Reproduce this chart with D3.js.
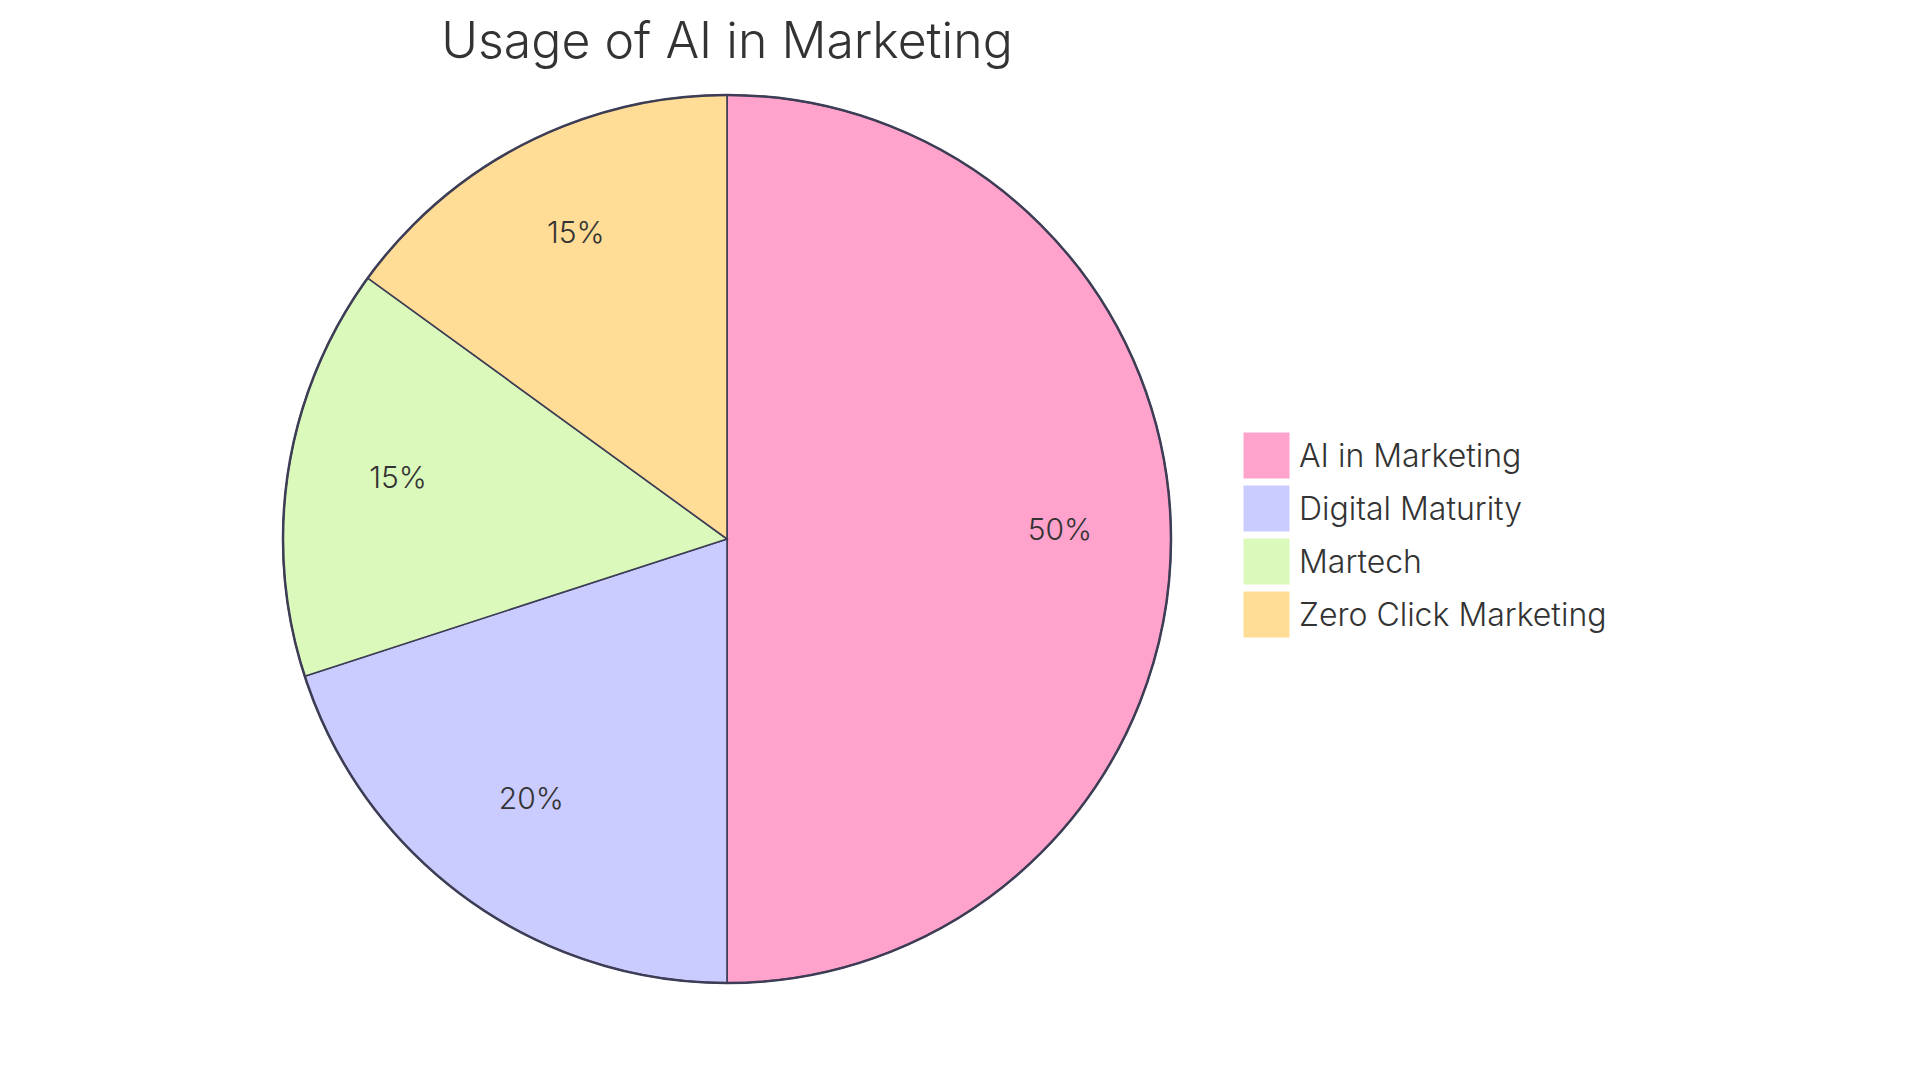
<!DOCTYPE html>
<html><head><meta charset="utf-8">
<script src="https://cdn.jsdelivr.net/npm/d3@7"></script>
<style>body{margin:0;background:#fff}text{font-family:Inter,"Open Sans",sans-serif;fill:#333}</style>
</head><body>
<svg id="chart" width="1920" height="1080"></svg>
<script>
const categories = ["AI in Marketing", "Digital Maturity", "Martech", "Zero Click Marketing"];
const values = [50, 20, 15, 15];
const colors = ["#FFA3CD", "#CACBFF", "#DCF9BC", "#FFDD96"];

const svg = d3.select("#chart");
const cx = 727, cy = 539, r = 444;

svg.append("text").attr("x", cx).attr("y", 58).attr("text-anchor", "middle")
  .attr("font-size", 50).attr("font-weight", 300).text("Usage of AI in Marketing");

const data = categories.map((c, i) => ({ name: c, value: values[i], color: colors[i] }));
const pie = d3.pie().value(d => d.value).sort(null);
const arc = d3.arc().innerRadius(0).outerRadius(r);
const labelArc = d3.arc().innerRadius(r * 0.75).outerRadius(r * 0.75);
const total = d3.sum(values);

const g = svg.append("g").attr("transform", `translate(${cx},${cy})`);
const arcs = pie(data);
g.selectAll("path").data(arcs).join("path")
  .attr("d", arc).attr("fill", d => d.data.color)
  .attr("stroke", "#3d3d55").attr("stroke-width", 1.6);
g.append("circle").attr("r", r).attr("fill", "none").attr("stroke", "#3d3d55").attr("stroke-width", 2.5);
g.selectAll("text.lbl").data(arcs).join("text").attr("class", "lbl")
  .attr("transform", d => `translate(${labelArc.centroid(d)})`)
  .attr("text-anchor", "middle").attr("dy", "0.02em").attr("font-size", 30).attr("font-weight", 300)
  .text(d => Math.round(d.data.value / total * 100) + "%");

const leg = svg.append("g").attr("transform", "translate(1244,433)");
const row = leg.selectAll("g").data(data).join("g").attr("transform", (d, i) => `translate(0,${i * 53})`);
row.append("rect").attr("width", 45).attr("height", 45).attr("fill", d => d.color).attr("stroke", d => d.color);
row.append("text").attr("x", 55).attr("y", 23).attr("dy", "0.35em").attr("font-size", 32).attr("font-weight", 300).text(d => d.name);
</script>
</body></html>
